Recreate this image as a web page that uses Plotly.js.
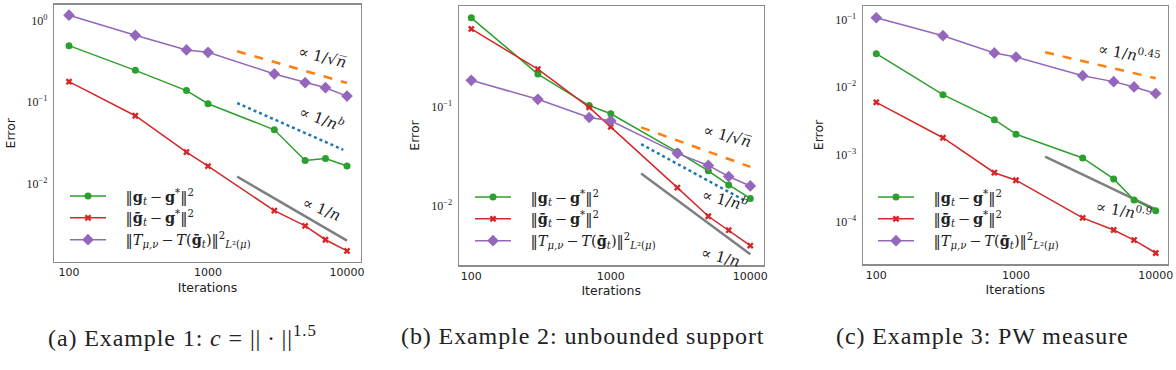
<!DOCTYPE html>
<html>
<head>
<meta charset="utf-8">
<script src="https://cdn.plot.ly/plotly-3.0.1.min.js"></script>
<style>
  html, body { margin: 0; padding: 0; background: #fff; }
  #chart { width: 1176px; height: 370px; }
</style>
</head>
<body>
<div id="chart"></div>
<script>
// ---------------- data ----------------
const iters = [100, 300, 700, 1000, 3000, 5000, 7000, 10000];

// Example 1
const g1    = [0.498, 0.247, 0.139, 0.0958, 0.0457, 0.0191, 0.0202, 0.0164];
const gbar1 = [0.179, 0.0681, 0.0243, 0.0163, 0.00461, 0.00299, 0.00202, 0.00147];
const T1    = [1.18, 0.668, 0.441, 0.412, 0.223, 0.174, 0.151, 0.119];
const refX1  = [1620, 10000];
const refXb1 = [1620, 9400];
const sqrt1 = [0.424, 0.1726];
const nb1   = [0.0977, 0.0259];
const n1    = [0.0121, 0.00197];

// Example 2
const g2    = [0.79, 0.214, 0.103, 0.085, 0.0351, 0.0226, 0.0163, 0.0119];
const gbar2 = [0.61, 0.24, 0.0986, 0.0628, 0.0153, 0.00787, 0.00569, 0.00398];
const T2    = [0.185, 0.119, 0.078, 0.0723, 0.0339, 0.0256, 0.0198, 0.0159];
const refX2  = [1650, 10000];
const refXb2 = [1650, 9460];
const sqrt2 = [0.062, 0.0248];
const nb2   = [0.042, 0.011];
const n2    = [0.0212, 0.00325];

// Example 3
const g3    = [0.0311, 0.00769, 0.00328, 0.002, 0.000887, 0.000434, 0.000212, 0.000147];
const gbar3 = [0.00593, 0.00177, 0.000537, 0.000415, 0.000115, 0.000076, 0.000054, 0.0000347];
const T3    = [0.106, 0.0575, 0.0319, 0.0278, 0.0147, 0.012, 0.01, 0.008];
const refX3 = [1615, 10000];
const p045_3 = [0.0327, 0.01346];
const p09_3  = [0.000927, 0.000154];

// labels
const SP = "\u2009";
const seriesNames = [
  "\u2003‖<b>g</b><sub><i>t</i></sub>" + SP + "−" + SP + "<b>g</b><sup>*</sup>‖<sup>2</sup>",
  "\u2003‖<b>g\u0304</b><sub><i>t</i></sub>" + SP + "−" + SP + "<b>g</b><sup>*</sup>‖<sup>2</sup>",
  "\u2003‖<i>T</i><sub><i>μ,ν</i></sub>" + SP + "−" + SP + "<i>T</i>(<b>g\u0304</b><sub><i>t</i></sub>)‖<sup>2</sup><sub><i>L</i>²(<i>μ</i>)</sub>"
];
const xTickVals = [100, 1000, 10000];
const xTickText = ["100", "1000", "10000"];
const yTickVals1 = [1, 0.1, 0.01];
const yTickText1 = ["10<sup>0</sup>", "10<sup>−1</sup>", "10<sup>−2</sup>"];
const yTickVals2 = [0.1, 0.01];
const yTickText2 = ["10<sup>−1</sup>", "10<sup>−2</sup>"];
const yTickVals3 = [0.1, 0.01, 0.001, 0.0001];
const yTickText3 = ["10<sup>−1</sup>", "10<sup>−2</sup>", "10<sup>−3</sup>", "10<sup>−4</sup>"];
const captions = [
  "(a) Example 1: <i>c</i> = ||\u2009·\u2009||<sup>1.5</sup>",
  "(b) Example 2: unbounded support",
  "(c) Example 3: PW measure"
];
const rateLabels1 = ["∝ 1/√<i>n\u0305</i>", "∝ 1/<i>n</i><sup><i>b</i></sup>", "∝ 1/<i>n</i>"];
const rateLabels2 = ["∝ 1/√<i>n\u0305</i>", "∝ 1/<i>n</i><sup><i>b</i></sup>", "∝ 1/<i>n</i>"];
const rateLabels3 = ["∝ 1/<i>n</i><sup>0.45</sup>", "∝ 1/<i>n</i><sup>0.9</sup>"];

// ---------------- styling ----------------
const W = 1176, H = 370;
const px = x => x / W;
const py = y => 1 - y / H;
const C = { green: "#2ca02c", red: "#d62728", purple: "#9467bd", orange: "#ff7f0e", blue: "#1f77b4", gray: "#7f7f7f" };
const mathFont = "DejaVu Serif, serif";
const tickFont = "Liberation Serif, serif";
const capFont = "Liberation Serif, Times New Roman, serif";
const sansFont = "DejaVu Sans, Liberation Sans, sans-serif";

function seriesTraces(ax, ay, leg, g, gb, T) {
  const base = { x: iters, xaxis: ax, yaxis: ay, legend: leg, mode: "lines+markers", showlegend: true };
  return [
    Object.assign({}, base, { y: g,  name: seriesNames[0], line: { color: C.green, width: 1.5 }, marker: { symbol: "circle", size: 7, color: C.green } }),
    Object.assign({}, base, { y: gb, name: seriesNames[1], line: { color: C.red, width: 1.5 }, marker: { symbol: "x", size: 6, color: C.red } }),
    Object.assign({}, base, { y: T,  name: seriesNames[2], line: { color: C.purple, width: 1.5 }, marker: { symbol: "diamond", size: 9, color: C.purple } })
  ];
}
function refTrace(ax, ay, x, y, color, dash, width) {
  return { x: x, y: y, xaxis: ax, yaxis: ay, mode: "lines", showlegend: false, hoverinfo: "skip",
           line: { color: color, dash: dash, width: width } };
}

const traces = [
  refTrace("x", "y", refX1, sqrt1, C.orange, "dash", 2.5),
  refTrace("x", "y", refXb1, nb1, C.blue, "dot", 2.5),
  refTrace("x", "y", refX1, n1, C.gray, "solid", 2.5),
  ...seriesTraces("x", "y", "legend", g1, gbar1, T1),
  refTrace("x2", "y2", refX2, sqrt2, C.orange, "dash", 2.5),
  refTrace("x2", "y2", refXb2, nb2, C.blue, "dot", 2.5),
  refTrace("x2", "y2", refX2, n2, C.gray, "solid", 2.5),
  ...seriesTraces("x2", "y2", "legend2", g2, gbar2, T2),
  refTrace("x3", "y3", refX3, p045_3, C.orange, "dash", 2.5),
  refTrace("x3", "y3", refX3, p09_3, C.gray, "solid", 2.5),
  ...seriesTraces("x3", "y3", "legend3", g3, gbar3, T3)
];

function xAxis(domain, range, anchor) {
  return {
    type: "log", domain: domain, range: range, anchor: anchor,
    showgrid: false, zeroline: false, showline: true, mirror: true,
    linecolor: "#8c8c8c", linewidth: 1.2, ticks: "",
    tickmode: "array", tickvals: xTickVals, ticktext: xTickText,
    tickfont: { family: sansFont, size: 11, color: "#222" },
    title: { text: "Iterations", font: { family: sansFont, size: 12.5, color: "#222" }, standoff: 4 }
  };
}
function yAxis(domain, range, anchor, tv, tt) {
  return {
    type: "log", domain: domain, range: range, anchor: anchor,
    showgrid: false, zeroline: false, showline: true, mirror: true,
    linecolor: "#8c8c8c", linewidth: 1.2, ticks: "",
    tickmode: "array", tickvals: tv, ticktext: tt, ticklabelstandoff: 3,
    tickfont: { family: tickFont, size: 12, color: "#222" },
    title: { text: "Error", font: { family: sansFont, size: 12.5, color: "#222" }, standoff: 8 }
  };
}
function legendAt(xPix, yPix) {
  return {
    x: px(xPix), y: py(yPix), xanchor: "left", yanchor: "top",
    bgcolor: "rgba(0,0,0,0)", borderwidth: 0,
    font: { family: mathFont, size: 14.5, color: "#222" },
    itemwidth: 36, tracegroupgap: 0
  };
}
function ann(text, xPix, yPix, angle, size, family) {
  return { text: text, xref: "paper", yref: "paper", x: px(xPix), y: py(yPix),
           xanchor: "center", yanchor: "middle", showarrow: false, textangle: angle,
           font: { family: family || mathFont, size: size || 15, color: "#222" } };
}
function caption(text, xPix) {
  return ann("<span style=\"letter-spacing:0.9px\">" + text + "</span>", xPix, 336, 0, 24, capFont);
}

const layout = {
  width: W, height: H,
  margin: { l: 0, r: 0, t: 0, b: 0 },
  paper_bgcolor: "#fff", plot_bgcolor: "#fff",
  showlegend: true,
  xaxis:  xAxis([54 / W, 361 / W], [1.892, 4.1007], "y"),
  yaxis:  yAxis([1 - 262 / H, 1 - 4.5 / H], [-2.969, 0.204], "x", yTickVals1, yTickText1),
  xaxis2: xAxis([458.7 / W, 763.7 / W], [1.9097, 4.096], "y2"),
  yaxis2: yAxis([1 - 265.3 / H, 1 - 5.7 / H], [-2.599, 0.020], "x2", yTickVals2, yTickText2),
  xaxis3: xAxis([862.7 / W, 1168 / W], [1.9027, 4.088], "y3"),
  yaxis3: yAxis([1 - 264.3 / H, 1 - 5.7 / H], [-4.627, -0.796], "x3", yTickVals3, yTickText3),
  legend:  legendAt(65, 180),
  legend2: legendAt(470, 181),
  legend3: legendAt(873, 181),
  annotations: [
    ann(rateLabels1[0], 322, 57, 14),
    ann(rateLabels1[1], 322, 118, 20),
    ann(rateLabels1[2], 321, 209, 22),
    ann(rateLabels2[0], 727, 136, 15),
    ann(rateLabels2[1], 725, 199, 15),
    ann(rateLabels2[2], 720, 257, 15),
    ann(rateLabels3[0], 1129, 53, 10),
    ann(rateLabels3[1], 1124, 210, 10),
    caption(captions[0], 182),
    caption(captions[1], 582),
    caption(captions[2], 982)
  ]
};

Plotly.newPlot("chart", traces, layout, { staticPlot: true, displayModeBar: false });
</script>
</body>
</html>
